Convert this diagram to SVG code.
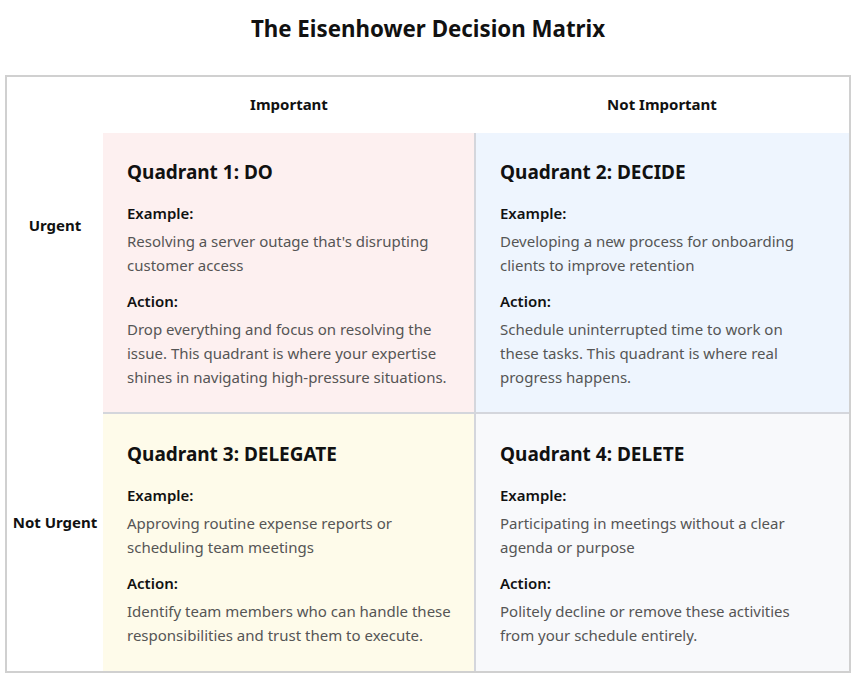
<svg xmlns="http://www.w3.org/2000/svg" width="857" height="676" viewBox="0 0 857 676">
<style>
text{font-family:"Noto Sans","Open Sans","Liberation Sans",sans-serif;}
.title{font-size:22.3px;font-weight:700;fill:#111;}
.hdr{font-size:15px;font-weight:700;fill:#111;}
.qt{font-size:19px;font-weight:700;fill:#111;}
.lab{font-size:15px;font-weight:600;fill:#111;}
.body{font-size:15px;fill:#555;}
.div{stroke:#d4d6dc;stroke-width:2;}
</style>
<rect x="0" y="0" width="857" height="676" fill="#fff"/>
<text class="title" x="428" y="37" text-anchor="middle">The Eisenhower Decision Matrix</text>
<rect x="6" y="76" width="844" height="596" fill="#fff" stroke="#d0d0d0" stroke-width="2"/>
<g id="headers">
<text class="hdr" x="289" y="110" text-anchor="middle">Important</text>
<text class="hdr" x="662" y="110" text-anchor="middle">Not Important</text>
<text class="hdr" x="55" y="231" text-anchor="middle">Urgent</text>
<text class="hdr" x="55" y="528" text-anchor="middle">Not Urgent</text>
</g>
<g id="q1">
<rect x="103" y="133" width="372" height="280" fill="#fdf0f0"/>
<text class="qt" x="127" y="179">Quadrant 1: DO</text>
<text class="lab" x="127" y="219">Example:</text>
<text class="body" x="127" y="247">Resolving a server outage that's disrupting</text>
<text class="body" x="127" y="271">customer access</text>
<text class="lab" x="127" y="307">Action:</text>
<text class="body" x="127" y="335">Drop everything and focus on resolving the</text>
<text class="body" x="127" y="359">issue. This quadrant is where your expertise</text>
<text class="body" x="127" y="383">shines in navigating high-pressure situations.</text>
</g>
<g id="q2">
<rect x="475" y="133" width="374" height="280" fill="#eef5fe"/>
<text class="qt" x="500" y="179">Quadrant 2: DECIDE</text>
<text class="lab" x="500" y="219">Example:</text>
<text class="body" x="500" y="247">Developing a new process for onboarding</text>
<text class="body" x="500" y="271">clients to improve retention</text>
<text class="lab" x="500" y="307">Action:</text>
<text class="body" x="500" y="335">Schedule uninterrupted time to work on</text>
<text class="body" x="500" y="359">these tasks. This quadrant is where real</text>
<text class="body" x="500" y="383">progress happens.</text>
</g>
<g id="q3">
<rect x="103" y="413" width="372" height="258" fill="#fefbea"/>
<text class="qt" x="127" y="461">Quadrant 3: DELEGATE</text>
<text class="lab" x="127" y="501">Example:</text>
<text class="body" x="127" y="529">Approving routine expense reports or</text>
<text class="body" x="127" y="553">scheduling team meetings</text>
<text class="lab" x="127" y="589">Action:</text>
<text class="body" x="127" y="617">Identify team members who can handle these</text>
<text class="body" x="127" y="641">responsibilities and trust them to execute.</text>
</g>
<g id="q4">
<rect x="475" y="413" width="374" height="258" fill="#f8f9fb"/>
<text class="qt" x="500" y="461">Quadrant 4: DELETE</text>
<text class="lab" x="500" y="501">Example:</text>
<text class="body" x="500" y="529">Participating in meetings without a clear</text>
<text class="body" x="500" y="553">agenda or purpose</text>
<text class="lab" x="500" y="589">Action:</text>
<text class="body" x="500" y="617">Politely decline or remove these activities</text>
<text class="body" x="500" y="641">from your schedule entirely.</text>
</g>
<g id="connectors">
<line class="div" x1="475" y1="133" x2="475" y2="671"/>
<line class="div" x1="103" y1="413" x2="849" y2="413"/>
</g>
</svg>
